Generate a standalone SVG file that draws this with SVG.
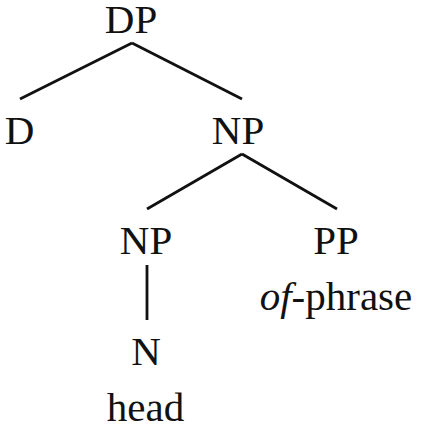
<svg xmlns="http://www.w3.org/2000/svg" width="423" height="427" viewBox="0 0 423 427">
<style>
text{font-family:"Liberation Serif","Times New Roman",serif;font-size:41px;fill:#111;text-anchor:middle}
.e{stroke:#111;stroke-width:2.8;stroke-linecap:butt;fill:none}
</style>
<rect width="423" height="427" fill="#fff"/>
<g id="connectors">
<line class="e" x1="132" y1="43" x2="20" y2="99"/>
<line class="e" x1="132" y1="43" x2="242" y2="99"/>
<line class="e" x1="242" y1="154" x2="147" y2="209"/>
<line class="e" x1="242" y1="154" x2="337" y2="209"/>
<line class="e" x1="147" y1="265" x2="147" y2="320"/>
</g>
<g id="DP"><text x="131" y="33">DP</text></g>
<g id="D"><text x="19.5" y="144">D</text></g>
<g id="NP1"><text x="238" y="144">NP</text></g>
<g id="NP2"><text x="146" y="254">NP</text></g>
<g id="PP"><text x="336" y="254">PP</text><text x="336" y="310"><tspan font-style="italic">of</tspan>-phrase</text></g>
<g id="N"><text x="146" y="365">N</text><text x="145.5" y="421">head</text></g>
</svg>
